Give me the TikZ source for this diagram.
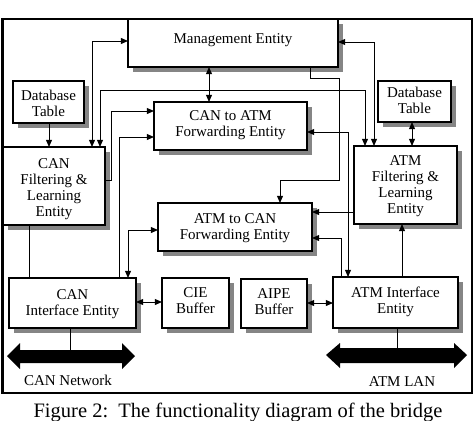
\documentclass[tikz,border=0pt]{standalone}
\usepackage{fontspec}
\setmainfont{Liberation Serif}
\usetikzlibrary{arrows.meta,fit,shadows}
\definecolor{shadowgray}{HTML}{858585}
\newcommand{\tstrut}{\rule{0pt}{10pt}}
\begin{document}
\begin{tikzpicture}[x=0.03cm,y=-0.03cm,
  entity/.style={draw=black, fill=white, line width=1.5pt, inner sep=0pt, outer sep=0pt,
    drop shadow={shadow xshift=0.15cm, shadow yshift=-0.16cm, opacity=1, fill=shadowgray}},
  txt/.style={anchor=north, yshift=10pt, inner sep=0pt, align=center,
    font=\fontsize{12.8}{13.7}\selectfont},
  conn/.style={line width=0.8pt, black},
  arr/.style={conn, -{Triangle[length=6pt,width=5pt]}},
  dbl/.style={conn, {Triangle[length=6pt,width=5pt]}-{Triangle[length=6pt,width=5pt]}},
  lbl/.style={font=\fontsize{12.8}{13.7}\selectfont},
  bigarrow/.style={fill=black}]
\useasboundingbox (0,0) rectangle (474,421);
% outer frame
\draw[line width=1pt] (2,19) rectangle (472,393);
\draw[line width=1.8pt] (2.5,19) -- (2.5,393);

% entities (boxes)
\node[entity, fit={(128,19) (338,67)}] (mg) {};
\node[entity, fit={(13,81) (84,123)}] (dtl) {};
\node[entity, fit={(378,81) (451,122)}] (dtr) {};
\node[entity, fit={(3,147) (105,225)}] (cfl) {};
\node[entity, fit={(354,146) (457,224)}] (afl) {};
\node[entity, fit={(154,102) (307,150)}] (c2a) {};
\node[entity, fit={(158,203) (312,251)}] (a2c) {};
\node[entity, fit={(9,278) (136,328)}] (canif) {};
\node[entity, fit={(162,278) (229,328)}] (ciebuf) {};
\node[entity, fit={(241,279) (307,328)}] (aipe) {};
\node[entity, fit={(333,277) (458,328)}] (atmif) {};

% entity texts (first baseline at the given y)
\node[txt] (tmg) at (233,43) {\tstrut Management Entity};
\node[txt] (tdtl) at (48.5,100) {\tstrut Database\\Table};
\node[txt] (tdtr) at (414.5,97) {\tstrut Database\\Table};
\node[txt] (tcfl) at (54,168) {\tstrut CAN\\Filtering \&\\Learning\\Entity};
\node[txt] (tafl) at (405.5,165) {\tstrut ATM\\Filtering \&\\Learning\\Entity};
\node[txt] (tc2a) at (230.5,120) {\tstrut CAN to ATM\\Forwarding Entity};
\node[txt] (ta2c) at (235,223) {\tstrut ATM to CAN\\Forwarding Entity};
\node[txt] (tcanif) at (72.5,299) {\tstrut CAN\\Interface Entity};
\node[txt] (tcie) at (195.5,297) {\tstrut CIE\\Buffer};
\node[txt] (taipe) at (274,298) {\tstrut AIPE\\Buffer};
\node[txt] (tatmif) at (395.5,297) {\tstrut ATM Interface\\Entity};

% network arrows
\fill[bigarrow] (7,356) -- (20,343) -- (20,350) -- (122,350) -- (122,343) -- (135,356)
  -- (122,369) -- (122,363) -- (20,363) -- (20,369) -- cycle;
\fill[bigarrow] (326,355) -- (340,343) -- (340,348) -- (454,348) -- (454,343) -- (467,355)
  -- (454,368) -- (454,363) -- (340,363) -- (340,368) -- cycle;
\coordinate (cannet) at (70,350);
\coordinate (atmlan) at (397,348);
\node[lbl] (cannetlbl) at (68,380) {CAN Network};
\node[lbl] (atmlanlbl) at (402,382) {ATM LAN};

% connectors
\draw[conn] (canif.south -| cannet) -- (cannet);
\draw[conn] (atmif.south -| atmlan) -- (atmlan);
\draw[dbl] (209,0 |- mg.south) -- (209,0 |- c2a.north);
\draw[dbl] (mg.west |- 0,41) -| (92,0 |- cfl.north);
\draw[dbl] (mg.east |- 0,42) -| (374,0 |- afl.north);
\draw[dbl] (100,0 |- cfl.north) |- (365,90) -- (365,0 |- afl.north);
\draw[arr] (310,0 |- mg.south) -- (310,78) -- (339,78) -- (339,180) -- (280,180) -- (280,0 |- a2c.north);
\draw[arr] (cfl.east |- 0,180) -- (111,180) -- (111,111) -- (c2a.west |- 0,111);
\draw[arr] (119,0 |- canif.north) -- (119,137) -- (c2a.west |- 0,137);
\draw[dbl] (c2a.east |- 0,132) -| (348,0 |- atmif.north);
\draw[arr] (afl.west |- 0,212) -- (a2c.east |- 0,212);
\draw[arr] (341,0 |- atmif.north) |- (a2c.east |- 0,238);
\draw[dbl] (a2c.west |- 0,230) -| (128,0 |- canif.north);
\draw[conn] (29,0 |- cfl.south) -- (29,0 |- canif.north);
\draw[dbl] (canif.east |- 0,302) -- (ciebuf.west |- 0,302);
\draw[dbl] (aipe.east |- 0,303) -- (atmif.west |- 0,303);
\draw[arr] (402,0 |- atmif.north) -- (402,0 |- afl.south);
\draw[dbl] (412,0 |- dtr.south) -- (412,0 |- afl.north);
\draw[arr] (49,0 |- dtl.south) -- (49,0 |- cfl.north);

% caption
\node[anchor=base, font=\fontsize{17.5}{20}\selectfont, inner sep=0pt] (caption) at (238,417)
  {Figure 2:\ \ The functionality diagram of the bridge};
\end{tikzpicture}
\end{document}
